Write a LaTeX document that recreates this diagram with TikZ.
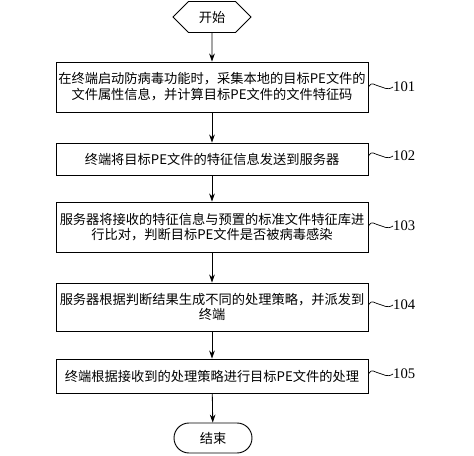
\documentclass[tikz,border=0pt]{standalone}
\usepackage{fontspec}
\setmainfont{Liberation Serif}
\newfontfamily\cjk{Noto Sans CJK SC}
\usetikzlibrary{shapes.symbols, shapes.misc, arrows.meta}
\begin{document}
\begin{tikzpicture}[x=0.03cm, y=-0.03cm,
    stepbox/.style={draw, line width=0.8pt, minimum width=9.36cm, align=center, inner sep=0pt, font=\cjk\fontsize{11.3}{13.5}\selectfont},
    flow/.style={-{Stealth[length=2.4mm, width=1.7mm]}, line width=0.7pt},
    wave/.style={line width=0.6pt},
    tag/.style={anchor=west, inner sep=0pt, font=\fontsize{12.5}{12.5}\selectfont}]
    \useasboundingbox (0,0) rectangle (474,456);
    \node[draw, line width=0.8pt, signal, signal to=east and west, minimum width=2.34cm, minimum height=0.93cm, inner sep=0pt, font=\cjk\fontsize{11.3}{11.3}\selectfont] (start) at (212,17) {开始}; %% start
    \node[stepbox, minimum height=1.5cm] (s101) at (212,87) {在终端启动防病毒功能时，采集本地的目标PE文件的\\文件属性信息，并计算目标PE文件的文件特征码};
    \node[stepbox, minimum height=0.96cm] (s102) at (212,159) {终端将目标PE文件的特征信息发送到服务器};
    \node[stepbox, minimum height=1.5cm] (s103) at (212,227) {服务器将接收的特征信息与预置的标准文件特征库进\\行比对，判断目标PE文件是否被病毒感染};
    \node[stepbox, minimum height=1.44cm] (s104) at (212,307) {服务器根据判断结果生成不同的处理策略，并派发到\\终端};
    \node[stepbox, minimum height=1.02cm] (s105) at (212,376) {终端根据接收到的处理策略进行目标PE文件的处理};
    \node[draw, line width=0.8pt, rounded rectangle, minimum width=2.34cm, minimum height=0.9cm, inner sep=0pt, font=\cjk\fontsize{11.3}{11.3}\selectfont] (stop) at (213,438) {结束}; %% end
    \draw[flow] (start) -- (s101);
    \draw[flow] (s101) -- (s102);
    \draw[flow] (s102) -- (s103);
    \draw[flow] (s103) -- (s104);
    \draw[flow] (s104) -- (s105);
    \draw[flow] (s105) -- (stop);
    %% step numbers
    \node[tag] (n101) at (393,87) {101};
    \node[tag] (n102) at (393,156) {102};
    \node[tag] (n103) at (393,226) {103};
    \node[tag] (n104) at (393,305) {104};
    \node[tag] (n105) at (393,374) {105};
    \draw[wave] (s101.east |- n101) .. controls +(4,-6) and +(-5,-1) .. +(10,-1) .. controls +(5,1) and +(-6,4) .. (n101.west);
    \draw[wave] (s102.east |- n102) .. controls +(4,-6) and +(-5,-1) .. +(10,-1) .. controls +(5,1) and +(-6,4) .. (n102.west);
    \draw[wave] (s103.east |- n103) .. controls +(4,-6) and +(-5,-1) .. +(10,-1) .. controls +(5,1) and +(-6,4) .. (n103.west);
    \draw[wave] (s104.east |- n104) .. controls +(4,-6) and +(-5,-1) .. +(10,-1) .. controls +(5,1) and +(-6,4) .. (n104.west);
    \draw[wave] (s105.east |- n105) .. controls +(4,-6) and +(-5,-1) .. +(10,-1) .. controls +(5,1) and +(-6,4) .. (n105.west);
\end{tikzpicture}
\end{document}
